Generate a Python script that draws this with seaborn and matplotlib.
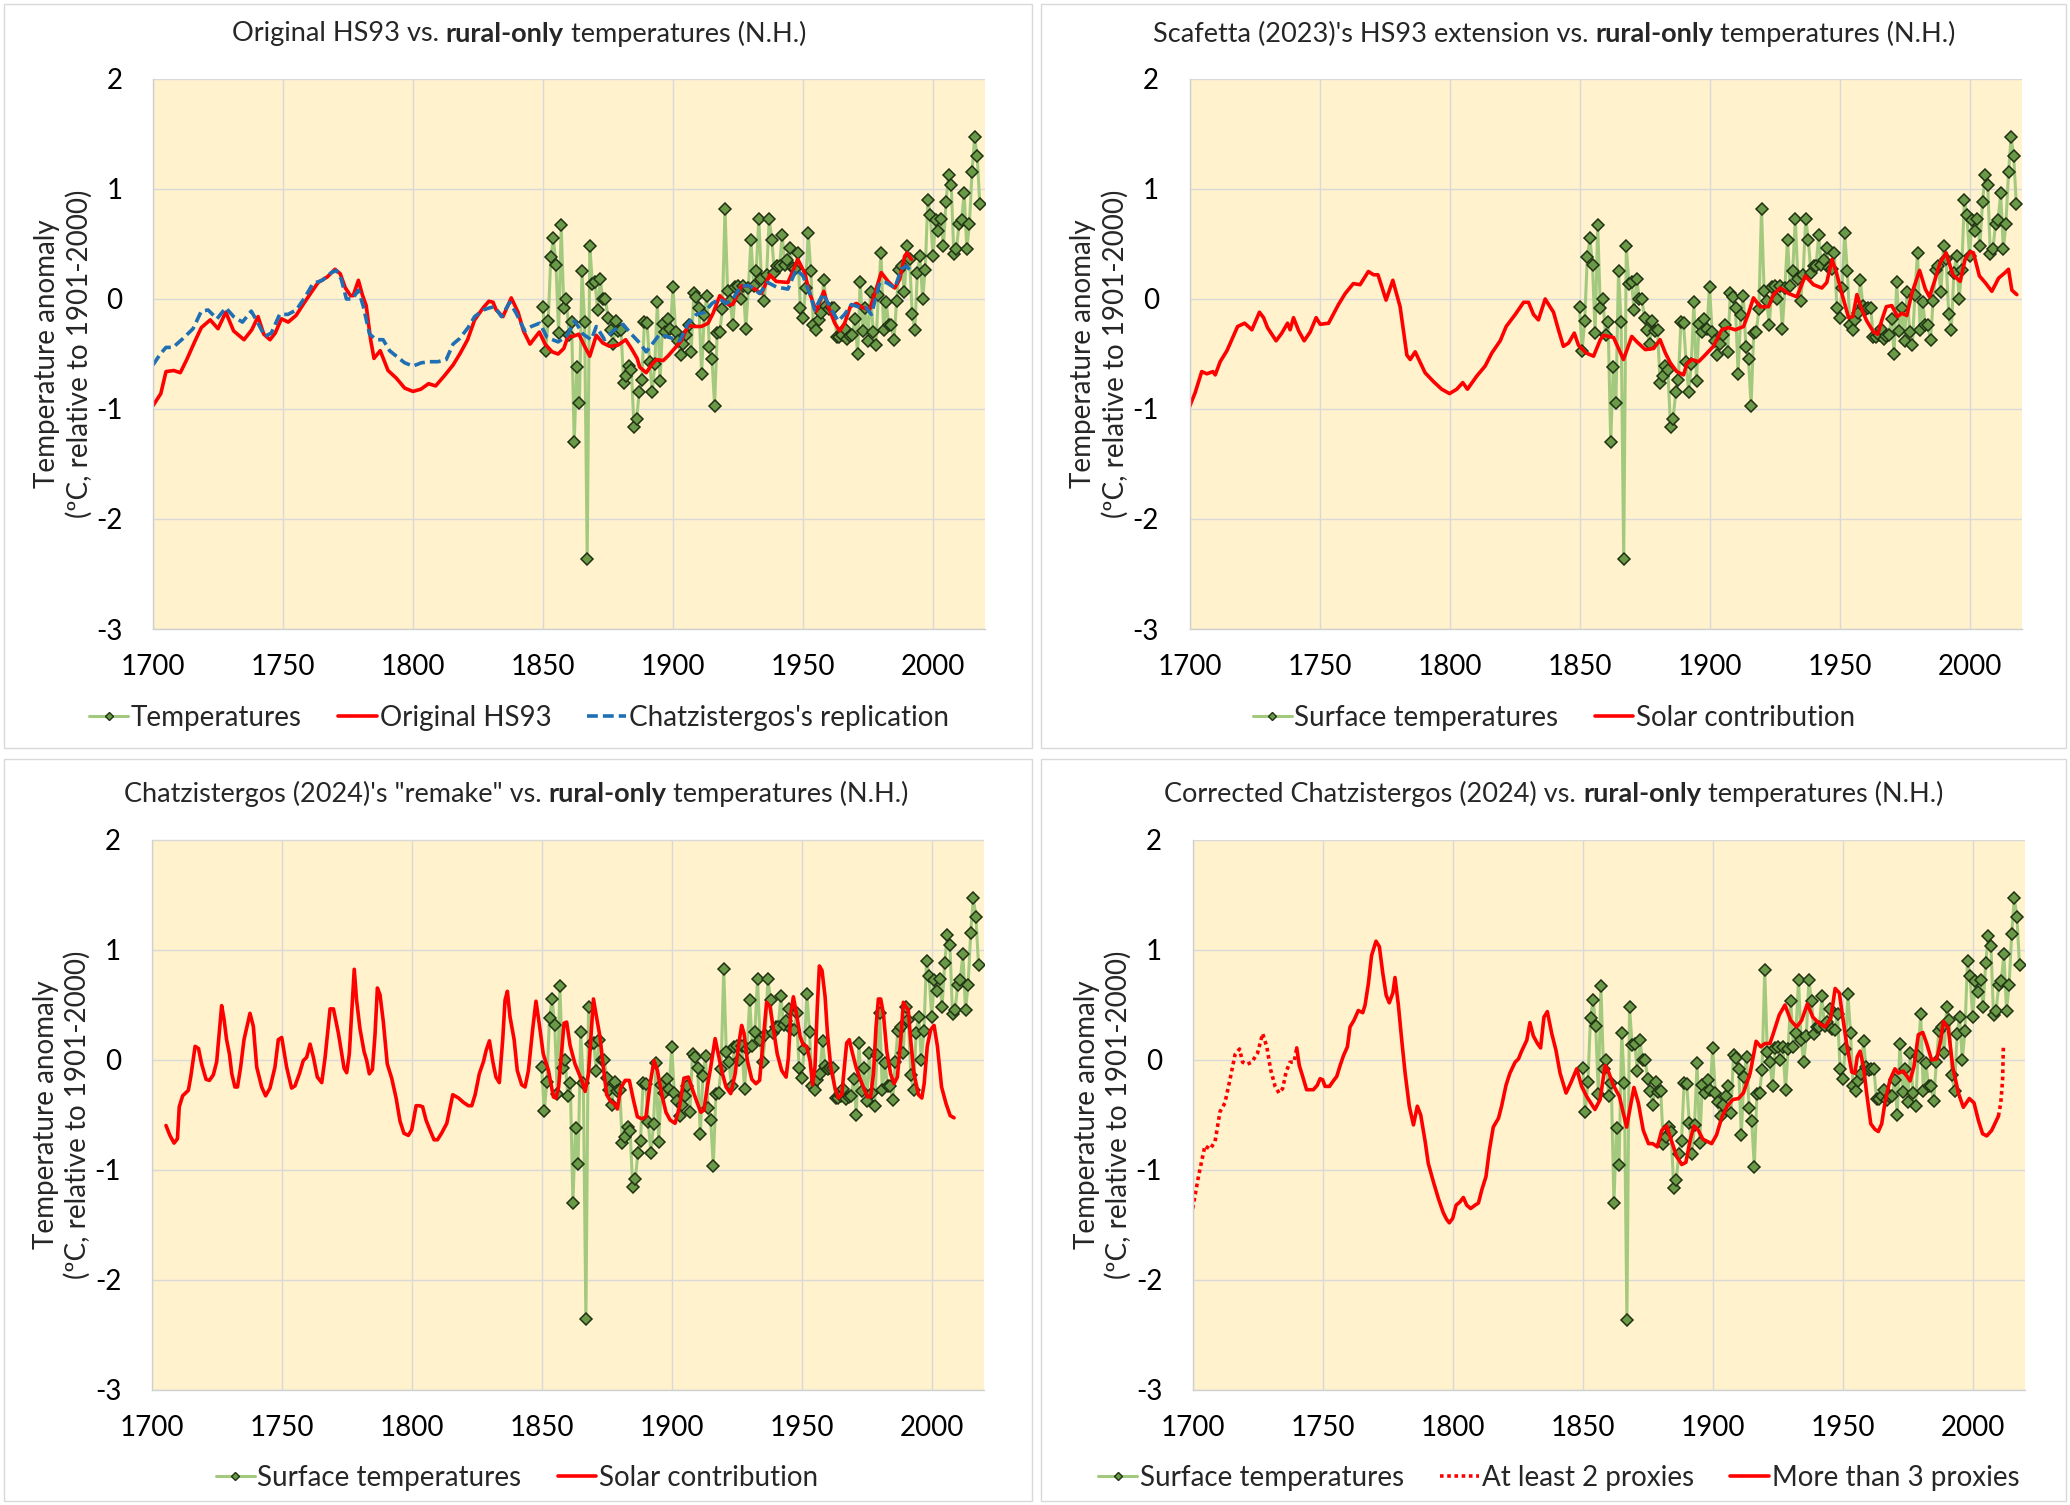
import numpy as np
import matplotlib
matplotlib.use("Agg")
import matplotlib.pyplot as plt
from matplotlib.lines import Line2D
from matplotlib.patches import Rectangle
import seaborn as sns

sns.set_style("white")
plt.rcParams['font.family'] = ['Lato', 'DejaVu Sans']
plt.rcParams['axes.unicode_minus'] = False

# rural-only N.H. surface temperatures, 1850-2018
temp_years = np.arange(1850, 2019)
temp_vals = [
    -0.07, -0.47, -0.20, 0.38, 0.55, 0.31, -0.31, 0.67, -0.08, 0.00,
    -0.33, -0.21, -1.30, -0.62, -0.95, 0.25, -0.21, -2.36, 0.48, 0.14,
    0.15, -0.10, 0.18, 0.00, 0.00, -0.17, -0.28, -0.41, -0.20, -0.29,
    -0.28, -0.76, -0.70, -0.61, -0.65, -1.16, -1.09, -0.85, -0.74, -0.21,
    -0.22, -0.57, -0.85, -0.59, -0.03, -0.75, -0.23, -0.30, -0.18, -0.27,
    0.11, -0.30, -0.38, -0.51, -0.41, -0.33, -0.24, -0.48, 0.05, 0.02,
    -0.08, -0.68, -0.15, 0.03, -0.44, -0.55, -0.97, -0.31, -0.30, -0.09,
    0.82, 0.07, -0.02, -0.24, 0.11, 0.12, 0.00, 0.12, -0.27, 0.10,
    0.54, 0.12, 0.25, 0.73, 0.18, -0.02, 0.22, 0.73, 0.54, 0.24,
    0.30, 0.30, 0.58, 0.31, 0.35, 0.46, 0.28, 0.27, 0.42, -0.08,
    -0.17, 0.10, 0.60, 0.25, -0.24, -0.28, -0.19, -0.13, 0.17, -0.06,
    -0.09, -0.08, -0.08, -0.35, -0.35, -0.33, -0.27, -0.36, -0.34, -0.33,
    -0.18, -0.50, 0.15, -0.29, -0.08, -0.38, 0.06, -0.30, -0.42, 0.04,
    0.42, -0.28, -0.03, -0.24, -0.24, -0.37, -0.02, 0.26, 0.30, 0.06,
    0.48, 0.36, -0.14, -0.28, 0.24, 0.39, 0.00, 0.26, 0.90, 0.76,
    0.39, 0.72, 0.62, 0.73, 0.48, 0.88, 1.13, 1.04, 0.41, 0.45,
    0.68, 0.72, 0.96, 0.45, 0.68, 1.15, 1.47, 1.30, 0.86,
]

# original HS93
hs93_years = [1700, 1703, 1705, 1708, 1710.5, 1713, 1716, 1718.6, 1722, 1725, 1728, 1731, 1735, 1738,
              1740.4, 1742.6, 1745, 1747, 1749.4, 1752, 1755, 1758, 1760, 1763.5, 1767, 1770, 1772,
              1774, 1776, 1777, 1779, 1780.5, 1782, 1783.7, 1785, 1787.4, 1790.4, 1793.6, 1796.8,
              1800, 1803, 1806, 1808.7, 1812, 1815.4, 1818, 1821, 1823.7, 1827, 1829.2, 1830.8, 1832,
              1834.6, 1837.8, 1840.4, 1842.5, 1845, 1848.6, 1850.8, 1853.5, 1855.8, 1858, 1859.6,
              1861.5, 1863.8, 1866, 1868, 1870.5, 1873, 1875.6, 1878.8, 1881.8, 1884, 1886.2, 1887.2,
              1889.7, 1891.7, 1893.6, 1896.2, 1898, 1900.6, 1903.2, 1905.8, 1908.3, 1910.9, 1913.5,
              1915.4, 1918, 1921.2, 1923, 1926.3, 1929.5, 1934, 1937.2, 1939.7, 1944.2, 1948, 1950.6,
              1952.6, 1955.1, 1958, 1959.6, 1962.2, 1964.1, 1966, 1968.2, 1970.5, 1973, 1975.6,
              1977.6, 1980.1, 1982.7, 1985.3, 1987.2, 1989.1, 1990, 1991.7]
hs93_vals = [-0.97, -0.86, -0.66, -0.65, -0.67, -0.55, -0.39, -0.26, -0.19, -0.27, -0.12, -0.29, -0.37,
             -0.28, -0.16, -0.32, -0.37, -0.31, -0.18, -0.21, -0.15, -0.04, 0.03, 0.15, 0.20, 0.27,
             0.23, 0.10, 0.03, 0.03, 0.17, 0.04, -0.06, -0.37, -0.54, -0.47, -0.65, -0.72, -0.81,
             -0.84, -0.82, -0.77, -0.79, -0.70, -0.60, -0.50, -0.37, -0.19, -0.08, -0.02, -0.03,
             -0.10, -0.16, 0.01, -0.12, -0.29, -0.41, -0.30, -0.41, -0.48, -0.50, -0.45, -0.34,
             -0.34, -0.32, -0.43, -0.52, -0.33, -0.40, -0.43, -0.42, -0.37, -0.45, -0.54, -0.62,
             -0.67, -0.60, -0.55, -0.56, -0.52, -0.45, -0.38, -0.24, -0.25, -0.25, -0.22, -0.13,
             0.03, -0.05, -0.05, 0.12, 0.12, 0.05, 0.22, 0.16, 0.15, 0.36, 0.24, 0.05, -0.11, 0.07,
             -0.06, -0.22, -0.29, -0.22, -0.07, -0.04, -0.08, -0.10, 0.05, 0.24, 0.16, 0.10, 0.18,
             0.39, 0.42, 0.36]

# Chatzistergos's replication of HS93
repl_years = [1700, 1702.8, 1705, 1707.7, 1711.5, 1715.4, 1718.6, 1721.2, 1724.6, 1728, 1731, 1734.4,
              1737.8, 1740.4, 1743, 1745.5, 1748.7, 1751.9, 1755.1, 1758.3, 1761.5, 1765.1, 1768.6,
              1770.5, 1772.4, 1774.4, 1776.7, 1779, 1780.8, 1783.3, 1785.9, 1788.5, 1791, 1793.6,
              1796.8, 1800, 1803.2, 1806.4, 1809.6, 1812.8, 1815.4, 1817.9, 1821.2, 1823.7, 1827,
              1829.5, 1831.4, 1834, 1837.2, 1839.7, 1843, 1845.5, 1848.7, 1851.6, 1855.8, 1859,
              1862.2, 1865.4, 1868.6, 1870.5, 1873.7, 1876.9, 1880.8, 1884, 1887.2, 1889.7, 1892.3,
              1894.9, 1898.7, 1902.6, 1905.8, 1909, 1912.2, 1915, 1918, 1920.5, 1923, 1926.3, 1929.5,
              1933.3, 1936.5, 1939.7, 1944.2, 1947.4, 1950, 1952.6, 1954.5, 1957.7, 1960.3, 1963.5,
              1966, 1968.6, 1971.2, 1974.4, 1976.3, 1979.5, 1982.1, 1985.3, 1987.8, 1989.7, 1992.3]
repl_vals = [-0.60, -0.50, -0.44, -0.44, -0.36, -0.27, -0.11, -0.10, -0.18, -0.08, -0.16, -0.21, -0.11,
             -0.22, -0.34, -0.31, -0.14, -0.14, -0.10, 0.01, 0.14, 0.17, 0.24, 0.26, 0.18, 0.00,
             0.00, 0.08, -0.06, -0.32, -0.37, -0.37, -0.47, -0.52, -0.58, -0.61, -0.58, -0.57,
             -0.57, -0.55, -0.41, -0.36, -0.26, -0.16, -0.10, -0.08, -0.07, -0.16, -0.03, -0.13,
             -0.29, -0.25, -0.22, -0.35, -0.39, -0.34, -0.20, -0.32, -0.37, -0.25, -0.37, -0.29,
             -0.23, -0.32, -0.40, -0.48, -0.40, -0.32, -0.35, -0.38, -0.22, -0.14, -0.12, -0.04,
             0.00, -0.04, 0.00, 0.12, 0.12, 0.05, 0.15, 0.11, 0.09, 0.27, 0.21, 0.05, -0.10, 0.05,
             -0.07, -0.20, -0.14, -0.05, -0.07, -0.08, -0.14, 0.15, 0.15, 0.10, 0.27, 0.30, 0.24]

# Scafetta (2023) HS93 extension
scaf_years = [1700, 1702.2, 1704.7, 1706.7, 1709, 1709.9, 1711.8, 1714.4, 1718.5, 1721.2, 1724, 1726.9,
              1728.5, 1730, 1733.3, 1735.5, 1737.7, 1738.7, 1740, 1742, 1744.1, 1746.4, 1748.7,
              1750.3, 1753.5, 1757.3, 1759.9, 1763, 1765.6, 1768.8, 1770.8, 1772.5, 1775.6, 1778.2,
              1781, 1783.6, 1784.9, 1786.8, 1790.6, 1793.8, 1797, 1800, 1802.8, 1805.1, 1806.9,
              1810.5, 1813.7, 1816.3, 1819.5, 1821.8, 1825.3, 1828.5, 1830.4, 1832.3, 1834.2,
              1836.8, 1840, 1841.9, 1843.8, 1845.8, 1848, 1849.6, 1852.5, 1855.4, 1858, 1859.2,
              1863.1, 1866.9, 1870.1, 1872.1, 1875.3, 1878.5, 1881, 1883, 1884.9, 1887.4, 1890,
              1891.3, 1893.2, 1895.8, 1898.3, 1901.5, 1904.7, 1907.3, 1909.9, 1913.1, 1915, 1916.9,
              1919.5, 1922.7, 1924.6, 1927.2, 1930.4, 1933.6, 1936.8, 1940, 1943.2, 1945.1, 1947.1,
              1948.7, 1950.9, 1953.5, 1955.1, 1956.7, 1958.6, 1960.5, 1963.1, 1964.7, 1966.3, 1968,
              1970.1, 1972.3, 1974, 1975.9, 1977.8, 1980.8, 1983, 1984.6, 1986.8, 1988.7, 1991,
              1993.6, 1996.4, 1998.3, 2000.3, 2001.5, 2003.8, 2006, 2008.6, 2011.2, 2013.7, 2015,
              2016.3, 2018.2]
scaf_vals = [-0.98, -0.85, -0.66, -0.68, -0.66, -0.69, -0.57, -0.47, -0.25, -0.22, -0.28, -0.12, -0.17,
             -0.26, -0.38, -0.31, -0.22, -0.28, -0.17, -0.29, -0.38, -0.30, -0.17, -0.23, -0.22,
             -0.05, 0.05, 0.14, 0.13, 0.25, 0.22, 0.22, -0.01, 0.17, -0.07, -0.51, -0.55, -0.48,
             -0.67, -0.75, -0.82, -0.86, -0.82, -0.76, -0.82, -0.70, -0.61, -0.49, -0.38, -0.25,
             -0.14, -0.03, -0.03, -0.14, -0.19, 0.00, -0.12, -0.28, -0.43, -0.40, -0.31, -0.42,
             -0.49, -0.52, -0.37, -0.33, -0.35, -0.55, -0.34, -0.39, -0.46, -0.45, -0.37, -0.49,
             -0.58, -0.66, -0.69, -0.59, -0.55, -0.57, -0.51, -0.43, -0.28, -0.26, -0.28, -0.25,
             -0.13, 0.01, -0.07, -0.07, 0.04, 0.10, 0.05, 0.02, 0.21, 0.13, 0.10, 0.15, 0.36, 0.25,
             0.05, -0.17, -0.16, 0.04, -0.10, -0.20, -0.30, -0.32, -0.19, -0.07, -0.06, -0.16,
             -0.13, -0.15, 0.05, 0.26, 0.09, 0.02, 0.18, 0.33, 0.42, 0.22, 0.16, 0.36, 0.43, 0.42,
             0.21, 0.15, 0.07, 0.19, 0.24, 0.27, 0.08, 0.04]

# Chatzistergos (2024) "remake"
remake_years = [1705.5, 1707, 1708.6, 1709.9, 1710.6, 1711.9, 1714.1, 1715, 1716.7, 1718, 1719.2, 1720.9,
                1722.2, 1723.7, 1725, 1726.9, 1727.8, 1728.8, 1729.9, 1730.8, 1732, 1733, 1734.2,
                1735.5, 1737.8, 1739.1, 1740.4, 1742.3, 1743.8, 1745.5, 1747.4, 1748.7, 1750, 1751.9,
                1753.8, 1755.1, 1756.8, 1758.3, 1759.6, 1760.9, 1762.2, 1763.7, 1765.4, 1766.7,
                1768.6, 1769.9, 1771.8, 1773.1, 1774, 1775, 1776, 1777.9, 1778.8, 1780.1, 1781.7,
                1782.7, 1783.7, 1784.9, 1785.9, 1786.8, 1787.8, 1789.1, 1790.6, 1792.3, 1794, 1795.5,
                1797, 1798.7, 1800, 1801.7, 1803, 1804.2, 1805.5, 1807, 1808.6, 1809.9, 1811.5,
                1813.5, 1815.8, 1818, 1819.9, 1821.8, 1823.1, 1824.4, 1826, 1827.6, 1828.6, 1829.9,
                1831.2, 1832.4, 1833.7, 1835, 1835.9, 1836.8, 1837.8, 1839.4, 1840.6, 1842.3, 1843.6,
                1844.9, 1846.5, 1847.8, 1849.2, 1850.6, 1852.6, 1854.5, 1855.5, 1856.5, 1858.6,
                1859.6, 1860.9, 1862.8, 1865.4, 1866.7, 1868, 1869.9, 1871.2, 1872.4, 1873.7, 1875,
                1876.5, 1877.8, 1879.1, 1880.4, 1882.1, 1883.7, 1885.3, 1886.8, 1888.5, 1890.1,
                1891.7, 1893.2, 1894.5, 1896.2, 1897.8, 1899.4, 1901.3, 1903, 1904.7, 1906.4, 1908.1,
                1909.6, 1911.2, 1912.4, 1913.7, 1915, 1916.7, 1917.9, 1919.2, 1920.9, 1922.7, 1924.4,
                1925.6, 1926.9, 1927.8, 1929.1, 1930.8, 1932.4, 1933.8, 1935.3, 1936.5, 1937.8,
                1939.1, 1940.6, 1942.3, 1944, 1944.9, 1945.8, 1946.8, 1948.1, 1949.4, 1950.6, 1951.9,
                1953.2, 1954.2, 1955.1, 1956, 1956.8, 1957.8, 1959, 1959.9, 1961.2, 1962.8, 1964.1,
                1965.4, 1966.3, 1967.3, 1968.3, 1969.6, 1970.9, 1972.2, 1973.7, 1975.3, 1976.5,
                1977.6, 1978.6, 1979.5, 1980.4, 1981.4, 1982.7, 1984.2, 1985.5, 1986.8, 1988.1,
                1989.1, 1990.1, 1991, 1991.9, 1993.2, 1994.9, 1996.2, 1997.1, 1998.3, 1999.6, 2000.9,
                2002.2, 2003.8, 2005.5, 2007.1, 2008.6]
remake_vals = [-0.60, -0.69, -0.76, -0.72, -0.43, -0.33, -0.28, -0.16, 0.12, 0.10, -0.04, -0.18, -0.19,
               -0.14, -0.02, 0.49, 0.37, 0.18, 0.05, -0.13, -0.25, -0.25, -0.07, 0.18, 0.42, 0.30,
               -0.07, -0.25, -0.33, -0.26, -0.07, 0.18, 0.20, -0.07, -0.26, -0.24, -0.13, -0.01,
               0.02, 0.14, 0.02, -0.16, -0.21, 0.02, 0.46, 0.46, 0.24, 0.05, -0.08, -0.12, 0.05,
               0.82, 0.54, 0.28, 0.07, -0.01, -0.13, -0.09, 0.23, 0.65, 0.59, 0.34, -0.04, -0.17,
               -0.35, -0.56, -0.67, -0.69, -0.64, -0.42, -0.42, -0.43, -0.55, -0.64, -0.73, -0.73,
               -0.67, -0.58, -0.32, -0.35, -0.39, -0.42, -0.42, -0.32, -0.13, -0.02, 0.08, 0.17,
               -0.02, -0.16, -0.21, 0.18, 0.54, 0.62, 0.39, 0.18, -0.10, -0.23, -0.25, -0.10, 0.27,
               0.53, 0.30, 0.05, -0.10, -0.34, -0.35, -0.25, 0.33, 0.34, 0.13, -0.04, -0.19, -0.29,
               -0.13, 0.55, 0.37, 0.21, -0.07, -0.32, -0.38, -0.40, -0.45, -0.26, -0.19, -0.19,
               -0.37, -0.52, -0.54, -0.52, -0.22, -0.01, -0.10, -0.32, -0.48, -0.55, -0.58, -0.43,
               -0.17, -0.16, -0.28, -0.38, -0.48, -0.46, -0.25, -0.07, 0.19, 0.05, -0.10, -0.25,
               -0.31, -0.13, 0.11, 0.31, 0.24, -0.01, -0.18, -0.22, -0.19, 0.21, 0.52, 0.48, 0.28,
               0.05, -0.10, -0.16, 0.02, 0.42, 0.57, 0.40, 0.21, 0.13, 0.12, -0.01, -0.23, -0.07,
               0.48, 0.85, 0.81, 0.57, 0.24, -0.07, -0.26, -0.35, -0.32, -0.10, 0.15, 0.18, 0.05,
               -0.07, -0.16, -0.25, -0.34, -0.34, -0.13, 0.30, 0.55, 0.55, 0.42, 0.08, -0.13, -0.22,
               -0.16, 0.18, 0.52, 0.48, 0.45, 0.18, -0.13, -0.32, -0.35, -0.22, 0.12, 0.27, 0.31,
               0.12, -0.25, -0.40, -0.51, -0.53]

# corrected Chatzistergos (2024): at least 2 proxies (early / late) and more than 3 proxies
early_years = [1700, 1702.2, 1704.7, 1706.7, 1708.6, 1710.5, 1712.4, 1714.4, 1716.3, 1718, 1719.2,
               1720.8, 1722.7, 1724.9, 1726.9, 1728.5, 1730, 1731.7, 1733.2, 1734.6, 1735.9, 1737.4,
               1739, 1740]
early_vals = [-1.35, -1.06, -0.78, -0.81, -0.74, -0.47, -0.39, -0.17, 0.05, 0.10, -0.02, -0.04, -0.02,
              0.06, 0.24, 0.12, -0.09, -0.24, -0.30, -0.26, -0.11, -0.02, -0.02, 0.11]
late_years = [2009.9, 2010.8, 2011.5, 2011.8]
late_vals = [-0.51, -0.39, -0.18, 0.12]
corr_years = [1740, 1741, 1742.3, 1743.8, 1746.4, 1747.9, 1749, 1750, 1750.9, 1752.6, 1754.4, 1755.4,
              1756.7, 1758, 1759.5, 1760.5, 1762, 1763.7, 1765.4, 1766.3, 1767.6, 1768.8, 1770.5,
              1771.8, 1773.1, 1774.4, 1775.6, 1777, 1777.8, 1779.1, 1780.4, 1781.7, 1783.3, 1784.9,
              1786.4, 1787.7, 1789.4, 1790.6, 1792.6, 1794.5, 1796.4, 1797.7, 1798.7, 1800, 1801.3,
              1802.8, 1804.1, 1805.4, 1806.9, 1808.6, 1809.9, 1811.2, 1812.8, 1814.1, 1815.6, 1817.6,
              1818.8, 1820.5, 1822, 1824, 1825.3, 1826.5, 1828.5, 1829.7, 1831, 1832.6, 1833.8,
              1835.1, 1836.4, 1838.1, 1839.7, 1841.3, 1843.6, 1845.4, 1847.7, 1849.6, 1851.5, 1854.7,
              1856.7, 1858.6, 1859.5, 1861.8, 1864.1, 1865.6, 1866.9, 1868.2, 1869.7, 1871.4, 1873.3,
              1875.3, 1876.9, 1878.7, 1880.4, 1882.3, 1884.2, 1886.2, 1888.1, 1889.7, 1891.3, 1892.8,
              1894.5, 1896.2, 1897.9, 1899.6, 1901.5, 1903.5, 1905.6, 1907.7, 1909.9, 1911.8, 1914.4,
              1916.7, 1918.5, 1920.1, 1922, 1923.3, 1925.6, 1927.8, 1930, 1932.3, 1934.2, 1936.4,
              1938.5, 1940.6, 1943.2, 1945.4, 1947.1, 1948.7, 1950, 1951.5, 1953.5, 1954.7, 1955.6,
              1956.7, 1958, 1959.2, 1960.8, 1962.4, 1963.7, 1965, 1966.3, 1968.2, 1970.1, 1971.4,
              1973.3, 1975.9, 1977.4, 1979.1, 1980.8, 1982.3, 1984.2, 1986.2, 1987.7, 1988.7, 1990.6,
              1992.3, 1994.5, 1996.4, 1998.7, 2000.5, 2002.2, 2003.8, 2005.4, 2007.3, 2009.9]
corr_vals = [0.11, -0.05, -0.15, -0.27, -0.27, -0.23, -0.17, -0.18, -0.24, -0.24, -0.18, -0.15, -0.05,
             0.04, 0.12, 0.30, 0.36, 0.45, 0.43, 0.50, 0.70, 0.95, 1.08, 1.03, 0.79, 0.59, 0.52,
             0.61, 0.75, 0.50, 0.18, -0.12, -0.42, -0.59, -0.42, -0.50, -0.74, -0.94, -1.11, -1.26,
             -1.39, -1.45, -1.48, -1.44, -1.32, -1.29, -1.25, -1.32, -1.35, -1.32, -1.30, -1.18,
             -1.06, -0.82, -0.61, -0.53, -0.42, -0.23, -0.12, -0.02, 0.01, 0.08, 0.18, 0.34, 0.22,
             0.15, 0.11, 0.39, 0.44, 0.24, 0.09, -0.12, -0.30, -0.21, -0.08, -0.24, -0.33, -0.45,
             -0.36, -0.05, -0.08, -0.23, -0.33, -0.48, -0.61, -0.44, -0.25, -0.39, -0.64, -0.76,
             -0.76, -0.79, -0.64, -0.60, -0.74, -0.88, -0.95, -0.93, -0.73, -0.60, -0.64, -0.72,
             -0.74, -0.76, -0.68, -0.52, -0.42, -0.36, -0.35, -0.30, -0.12, 0.17, 0.12, 0.15, 0.15,
             0.24, 0.41, 0.50, 0.36, 0.30, 0.36, 0.51, 0.39, 0.34, 0.30, 0.38, 0.65, 0.61, 0.39,
             0.15, -0.11, -0.12, 0.03, 0.08, -0.06, -0.30, -0.58, -0.63, -0.65, -0.58, -0.38, -0.18,
             -0.08, -0.12, -0.10, -0.19, -0.06, 0.23, 0.25, 0.15, 0.00, 0.01, 0.18, 0.35, 0.29,
             -0.06, -0.30, -0.43, -0.35, -0.39, -0.55, -0.67, -0.69, -0.64, -0.51]

W, H = 2070, 1505
GREEN = '#A3C97F'
MFACE = '#6A9A48'
MEDGE = '#1F3312'
RED = '#FF0000'
BLUE = '#1F6FB5'
YLABEL = 'Temperature anomaly\n(ºC, relative to 1901-2000)'

fig = plt.figure(figsize=(W / 100, H / 100), dpi=100)

# panel frames
for x0, y0, x1, y1 in [(4, 4, 1032, 748), (1041, 4, 2066, 748), (4, 759, 1032, 1501), (1041, 759, 2066, 1501)]:
    fig.patches.append(Rectangle((x0 / W, 1 - y1 / H), (x1 - x0) / W, (y1 - y0) / H,
                                 transform=fig.transFigure, fill=False, ec='#D9D9D9', lw=1))


def make_ax(left, top):
    ax = fig.add_axes([left / W, 1 - (top + 550) / H, 832 / W, 550 / H])
    ax.set_facecolor('#FFF2CC')
    ax.set_xlim(1700, 2020)
    ax.set_ylim(-3, 2)
    ax.set_xticks(range(1700, 2001, 50))
    ax.set_yticks(range(-3, 3))
    ax.grid(True, color='#D9D9D9', lw=1)
    ax.set_axisbelow(True)
    for s in ['top', 'right']:
        ax.spines[s].set_visible(False)
    for s in ['left', 'bottom']:
        ax.spines[s].set_color('#D0D0D0')
        ax.spines[s].set_linewidth(1)
    ax.tick_params(length=0, labelsize=20, colors='black')
    ax.tick_params(axis='x', pad=18)
    ax.tick_params(axis='y', pad=22)
    return ax


def finish_ax(ax):
    ax.set_xlabel('')
    ax.set_ylabel(YLABEL, fontsize=20, linespacing=1.25)
    ax.yaxis.set_label_coords(-0.073, 0.5)


def draw_temps(ax):
    sns.lineplot(x=temp_years, y=temp_vals, ax=ax, color=GREEN, lw=2.2, marker='D', markersize=6,
                 markerfacecolor=MFACE, markeredgecolor=MEDGE, markeredgewidth=1.1, legend=False)


def red_line(ax, xs, ys, dotted=False):
    ls = (0, (1, 1)) if dotted else '-'
    sns.lineplot(x=xs, y=ys, ax=ax, color=RED, lw=2.6, linestyle=ls, legend=False)


def rich_title(cx, cy, parts):
    objs = [fig.text(0, 1 - cy / H, s, fontsize=19.5, fontweight=w, va='center', ha='left') for s, w in parts]
    fig.canvas.draw()
    r = fig.canvas.get_renderer()
    widths = [o.get_window_extent(r).width for o in objs]
    x = cx - sum(widths) / 2
    for o, w in zip(objs, widths):
        o.set_x(x / W)
        x += w


temp_handle = lambda lab: Line2D([], [], color=GREEN, lw=2.2, marker='D', markersize=4.5,
                                 markerfacecolor=MFACE, markeredgecolor=MEDGE, label=lab)
red_handle = lambda lab: Line2D([], [], color=RED, lw=2.6, label=lab)


def add_legend(handles, cx, cy):
    fig.legend(handles=handles, loc='center', bbox_to_anchor=(cx / W, 1 - cy / H), ncol=len(handles),
               frameon=False, fontsize=20, handlelength=1.4, handletextpad=0.1, columnspacing=1.3)


# panel 1
ax1 = make_ax(153, 79)
draw_temps(ax1)
red_line(ax1, hs93_years, hs93_vals)
sns.lineplot(x=repl_years, y=repl_vals, ax=ax1, color=BLUE, lw=2.6, linestyle=(0, (3, 1.4)), legend=False)
finish_ax(ax1)
rich_title(519, 34, [('Original HS93 vs. ', 'normal'), ('rural-only', 'bold'),
                     (' temperatures (N.H.)', 'normal')])
add_legend([temp_handle('Temperatures'), red_handle('Original HS93'),
            Line2D([], [], color=BLUE, lw=2.6, linestyle=(0, (3, 1.4)), label="Chatzistergos's replication")],
           519, 718)

# panel 2
ax2 = make_ax(1189.5, 79)
draw_temps(ax2)
red_line(ax2, scaf_years, scaf_vals)
finish_ax(ax2)
rich_title(1554, 34, [("Scafetta (2023)'s HS93 extension vs. ", 'normal'), ('rural-only', 'bold'),
                      (' temperatures (N.H.)', 'normal')])
add_legend([temp_handle('Surface temperatures'), red_handle('Solar contribution')], 1554, 718)

# panel 3
ax3 = make_ax(151.7, 839.5)
draw_temps(ax3)
red_line(ax3, remake_years, remake_vals)
finish_ax(ax3)
rich_title(516, 794, [('Chatzistergos (2024)\'s "remake" vs. ', 'normal'), ('rural-only', 'bold'),
                      (' temperatures (N.H.)', 'normal')])
add_legend([temp_handle('Surface temperatures'), red_handle('Solar contribution')], 517, 1478)

# panel 4
ax4 = make_ax(1192.7, 840)
draw_temps(ax4)
red_line(ax4, early_years, early_vals, dotted=True)
red_line(ax4, corr_years, corr_vals)
red_line(ax4, late_years, late_vals, dotted=True)
finish_ax(ax4)
rich_title(1554, 794, [('Corrected Chatzistergos (2024) vs. ', 'normal'), ('rural-only', 'bold'),
                       (' temperatures (N.H.)', 'normal')])
add_legend([temp_handle('Surface temperatures'),
            Line2D([], [], color=RED, lw=2.6, linestyle=(0, (1, 1)), label='At least 2 proxies'),
            red_handle('More than 3 proxies')], 1559, 1478)

fig.savefig('out.png', dpi=100)
